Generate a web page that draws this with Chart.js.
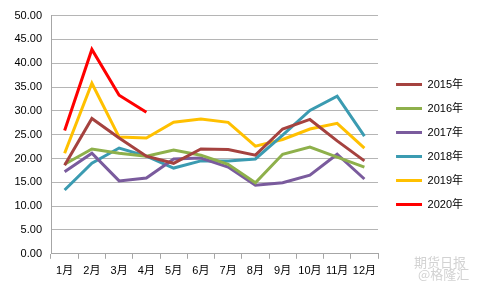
<!DOCTYPE html>
<html><head><meta charset="utf-8">
<script src="https://cdn.jsdelivr.net/npm/chart.js@4/dist/chart.umd.min.js"></script>
<style>html,body{margin:0;padding:0;background:#fff;}#wrap{position:relative;width:480px;height:288px;}
.wm{position:absolute;font:13px "Noto Sans CJK SC",sans-serif;color:#d2d2d2;line-height:13px;white-space:nowrap;}</style>
</head><body><div id="wrap"><canvas id="c" width="480" height="288"></canvas>
<div class="wm" style="left:414px;top:255px;">期货日报</div><div class="wm" style="left:418px;top:267px;">@格隆汇</div></div>
<script>
const months = ['1月','2月','3月','4月','5月','6月','7月','8月','9月','10月','11月','12月'];
const seriesNames = ['2015年','2016年','2017年','2018年','2019年','2020年'];
const y2015 = [18.6,28.4,24.3,20.5,19.0,22.0,21.9,20.7,26.2,28.2,23.7,19.5];
const y2016 = [18.8,22.0,21.1,20.5,21.8,20.7,18.8,14.9,20.9,22.4,20.3,18.2];
const y2017 = [17.2,21.1,15.3,15.9,19.9,20.1,18.2,14.4,14.9,16.5,20.9,15.7];
const y2018 = [13.4,19.0,22.2,20.5,18.0,19.5,19.5,19.9,24.9,30.1,33.1,24.7];
const y2019 = [21.1,35.8,24.5,24.3,27.6,28.3,27.6,22.6,24.0,26.2,27.4,22.2];
const y2020 = [25.9,42.9,33.3,29.7];
const colors = ['#A5423F','#8EB04B','#7A5B9D','#3B9BB1','#FFC000','#FF0000'];
const allData = [y2015,y2016,y2017,y2018,y2019,y2020];
const font = {family:'"Liberation Sans","Noto Sans CJK SC",sans-serif', size:11};
const legendGap = {
  id:'legendGap',
  afterInit(chart){
    const lg = chart.legend; if(!lg) return;
    const f = lg.fit;
    lg.fit = function(){ f.call(this); this.width += 8; };
  },
  afterLayout(chart){
    const lg = chart.legend; if(!lg) return;
    lg.left += 5;
  }
};
new Chart(document.getElementById('c'), {
  type:'line',
  data:{labels:months, datasets: allData.map((d,i)=>({label:seriesNames[i],data:d,borderColor:colors[i],backgroundColor:colors[i],borderWidth:3,pointRadius:0,tension:0,fill:false}))},
  options:{responsive:false,animation:false,
    layout:{padding:{left:0,right:4,top:5,bottom:4}},
    plugins:{legend:{position:'right',labels:{usePointStyle:true,pointStyle:'line',pointStyleWidth:26,padding:13,color:'#000',font:font}},tooltip:{enabled:false}},
    scales:{
      x:{offset:true,grid:{offset:true,drawOnChartArea:false,drawTicks:true,tickLength:5,color:'#a6a6a6'},border:{color:'#a6a6a6'},ticks:{color:'#000',font:font,padding:6,maxRotation:0,autoSkip:false}},
      y:{min:0,max:50,grid:{color:'#b5b5b5',drawTicks:false},border:{color:'#a6a6a6'},ticks:{stepSize:5,color:'#000',font:font,padding:9,callback:v=>v.toFixed(2)},afterFit:s=>{s.width=51;}}
    }
  },
  plugins:[legendGap]
});
</script></body></html>
